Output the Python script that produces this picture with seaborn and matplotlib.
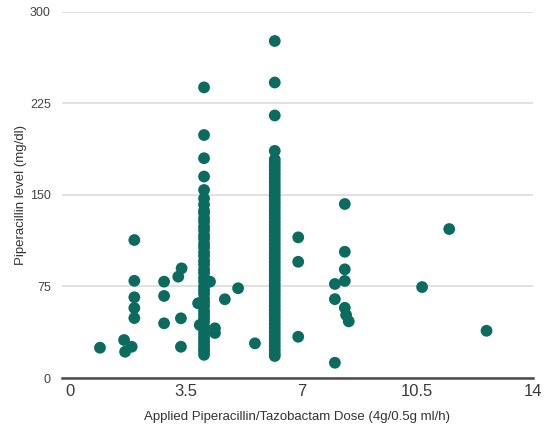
import matplotlib
matplotlib.use("Agg")
import matplotlib.pyplot as plt
import seaborn as sns
import pandas as pd

# ---- data ----
dose_a = [0.90, 1.63, 1.66, 1.86, 1.94, 1.94, 1.94, 1.94, 1.94]
level_a = [24.8, 31.1, 21.5, 25.6, 113, 79.6, 66.1, 57.3, 49.1]

dose_b = [2.84, 2.84, 2.84, 3.37, 3.27, 3.35, 3.35]
level_b = [78.9, 67.2, 44.8, 89.8, 83.0, 48.9, 25.6]

dose_c = 4.05
level_c = [19, 22, 24, 27, 30, 33, 36, 39, 42, 46, 49, 52, 55, 59, 62, 65,
           69, 72, 75, 79, 82, 86, 89, 93, 96, 100, 103, 107, 110, 114, 117,
           121, 124, 128, 131, 135, 137, 142, 147, 154, 165, 180, 199, 238]

dose_d = [4.23, 3.87, 3.92, 4.38, 4.38, 4.68, 5.08, 5.59]
level_d = [78.9, 61.2, 43.4, 40.7, 36.9, 64.5, 73.5, 28.4]

dose_e = 6.19
level_e = [18, 20, 23, 26, 29, 32, 35, 38, 41, 44, 47, 50, 53, 56, 59, 62,
           65, 68, 71, 74, 77, 80, 83, 86, 89, 92, 95, 98, 101, 104, 107,
           110, 113, 116, 119, 122, 125, 128, 131, 134, 137, 140, 143, 146,
           149, 152, 155, 158, 161, 164, 167, 170, 173, 176, 179, 186, 215,
           242, 276]

dose_f = [6.90, 6.90, 6.90, 8.31, 8.31, 8.31, 8.31, 8.01, 8.01, 8.31,
          8.35, 8.43, 8.01, 10.65, 11.47, 12.60]
level_f = [115.2, 95.2, 33.8, 142.5, 103.4, 89.0, 79.5, 77.0, 64.6, 57.5,
           51.6, 46.4, 12.5, 74.5, 122.0, 38.7]

x_ticks = [0, 3.5, 7, 10.5, 14]
x_tick_labels = ["0", "3.5", "7", "10.5", "14"]
y_ticks = [0, 75, 150, 225, 300]
y_tick_labels = ["0", "75", "150", "225", "300"]

doses = (dose_a + dose_b + [dose_c] * len(level_c) + dose_d
         + [dose_e] * len(level_e) + dose_f)
levels = level_a + level_b + level_c + level_d + level_e + level_f
df = pd.DataFrame({"dose": doses, "level": levels})

sns.set_theme(style="white")
plt.rcParams["font.family"] = ["Liberation Sans", "DejaVu Sans"]

fig = plt.figure(figsize=(5.5, 4.33), dpi=100)
ax = fig.add_axes([0.1127, 0.127, 0.856, 0.846])

sns.scatterplot(data=df, x="dose", y="level", ax=ax, color="#0a6b5e",
                s=72, edgecolor="none", linewidth=0, zorder=3)

ax.set_xlim(-0.25, 14.0)
ax.set_ylim(0, 300)
ax.set_xticks(x_ticks)
ax.set_xticklabels(x_tick_labels, fontsize=12, color="#3a3a3a")
ax.set_yticks(y_ticks)
ax.set_yticklabels(y_tick_labels, fontsize=9, color="#444444")
ax.yaxis.grid(True, color="#d8d8d8", linewidth=1.1, zorder=0)
ax.xaxis.grid(False)
ax.tick_params(axis="both", length=0)
ax.tick_params(axis="x", pad=4)
ax.tick_params(axis="y", pad=8)

for side in ["left", "right", "top"]:
    ax.spines[side].set_visible(False)
ax.spines["bottom"].set_color("#4a4a4a")
ax.spines["bottom"].set_linewidth(1.8)
ax.spines["bottom"].set_zorder(4)

ax.set_xlabel("Applied Piperacillin/Tazobactam Dose (4g/0.5g ml/h)",
              fontsize=9.5, color="#333333", labelpad=9)
ax.set_ylabel("Piperacillin level (mg/dl)", fontsize=9.5, color="#333333",
              labelpad=2)

fig.savefig("out.png", dpi=100)
